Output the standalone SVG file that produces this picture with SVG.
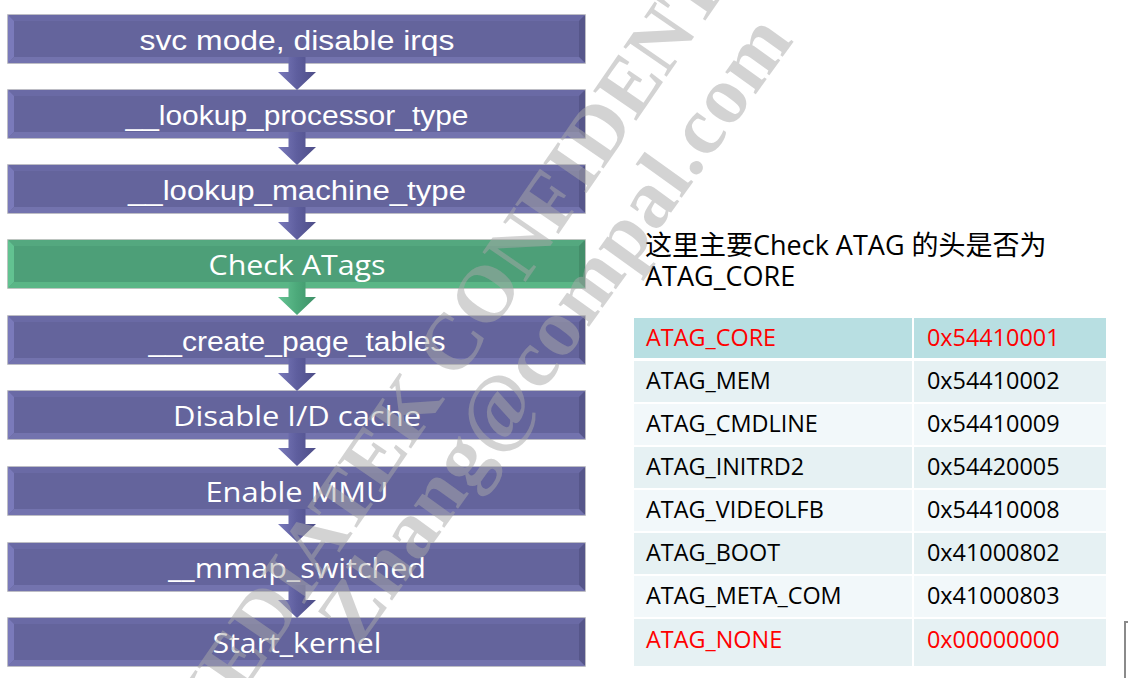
<svg xmlns="http://www.w3.org/2000/svg" xmlns:xlink="http://www.w3.org/1999/xlink" width="1128" height="678" viewBox="0 0 1128 678">
<style>
.lbl{fill:#ffffff;font-size:27px;text-anchor:middle}
.ar{font-family:"Liberation Sans",Arial,sans-serif}
.se{font-family:"Open Sans","Noto Sans",sans-serif}
.cell{font-family:"Open Sans","Noto Sans",sans-serif;font-size:23.4px;fill:#000}
.red{fill:#ff0000}
.wm{font-family:"Liberation Serif",serif;font-weight:bold;fill:#a8a8a8;fill-opacity:0.5}
</style>
<defs>
<linearGradient id="gp" x1="0" y1="0" x2="1" y2="0">
<stop offset="0" stop-color="#7a7abb"/><stop offset="0.5" stop-color="#5e5e9e"/><stop offset="1" stop-color="#4e4e88"/>
</linearGradient>
<linearGradient id="gg" x1="0" y1="0" x2="1" y2="0">
<stop offset="0" stop-color="#66c494"/><stop offset="0.5" stop-color="#4ca97a"/><stop offset="1" stop-color="#3e9068"/>
</linearGradient>
<g id="pbox">
<rect x="0" y="0" width="577" height="48" fill="#64649c" stroke="#a8a8b2" stroke-width="1.5"/>
<polygon points="0,0 577,0 571,6 6,6" fill="#6a6aa5"/>
<polygon points="0,0 6,6 6,42 0,48" fill="#7a7aba"/>
<polygon points="577,0 577,48 571,42 571,6" fill="#56568a"/>
<polygon points="0,48 6,42 571,42 577,48" fill="#7373ae"/>
</g>
<g id="gbox">
<rect x="0" y="0" width="577" height="48" fill="#4d9f78" stroke="#a8b2ac" stroke-width="1.5"/>
<polygon points="0,0 577,0 571,6 6,6" fill="#54a87f"/>
<polygon points="0,0 6,6 6,42 0,48" fill="#62c291"/>
<polygon points="577,0 577,48 571,42 571,6" fill="#448e6a"/>
<polygon points="0,48 6,42 571,42 577,48" fill="#5ab686"/>
</g>
<polygon id="arr" points="-8.5,-6 8.5,-6 8.5,9 19,9 0,27 -19,9 -8.5,9"/>
</defs>

<g id="node1"><use xlink:href="#pbox" x="8" y="15"/><text class="lbl ar" x="297" y="50" textLength="315" lengthAdjust="spacingAndGlyphs">svc mode, disable irqs</text></g>
<g id="node2"><use xlink:href="#pbox" x="8" y="90"/><text class="lbl ar" x="297" y="125" textLength="343" lengthAdjust="spacingAndGlyphs">__lookup_processor_type</text></g>
<g id="node3"><use xlink:href="#pbox" x="8" y="165"/><text class="lbl ar" x="297" y="200" textLength="338" lengthAdjust="spacingAndGlyphs">__lookup_machine_type</text></g>
<g id="node4"><use xlink:href="#gbox" x="8" y="240"/><text class="lbl se" x="297" y="275" textLength="177" lengthAdjust="spacingAndGlyphs">Check ATags</text></g>
<g id="node5"><use xlink:href="#pbox" x="8" y="316"/><text class="lbl ar" x="297" y="351" textLength="297" lengthAdjust="spacingAndGlyphs">__create_page_tables</text></g>
<g id="node6"><use xlink:href="#pbox" x="8" y="391"/><text class="lbl se" x="297" y="426" textLength="248" lengthAdjust="spacingAndGlyphs">Disable I/D cache</text></g>
<g id="node7"><use xlink:href="#pbox" x="8" y="467"/><text class="lbl se" x="297" y="502" textLength="183" lengthAdjust="spacingAndGlyphs">Enable MMU</text></g>
<g id="node8"><use xlink:href="#pbox" x="8" y="543"/><text class="lbl se" x="297" y="578" textLength="258" lengthAdjust="spacingAndGlyphs">__mmap_switched</text></g>
<g id="node9"><use xlink:href="#pbox" x="8" y="618"/><text class="lbl se" x="297" y="653" textLength="169" lengthAdjust="spacingAndGlyphs">Start_kernel</text></g>

<g id="connectors">
<use xlink:href="#arr" x="297" y="63" fill="url(#gp)"/>
<use xlink:href="#arr" x="297" y="138" fill="url(#gp)"/>
<use xlink:href="#arr" x="297" y="213" fill="url(#gp)"/>
<use xlink:href="#arr" x="297" y="288" fill="url(#gg)"/>
<use xlink:href="#arr" x="297" y="364" fill="url(#gp)"/>
<use xlink:href="#arr" x="297" y="439" fill="url(#gp)"/>
<use xlink:href="#arr" x="297" y="515" fill="url(#gp)"/>
<use xlink:href="#arr" x="297" y="591" fill="url(#gp)"/>
</g>

<g id="note">
<text x="645" y="255" font-family="'Open Sans','Noto Sans CJK SC',sans-serif" font-size="27" fill="#000">这里主要Check ATAG 的头是否为</text>
<text x="645" y="286" font-family="'Open Sans','Noto Sans CJK SC',sans-serif" font-size="27" fill="#000">ATAG_CORE</text>
</g>

<g id="table">
<rect x="634" y="318" width="472" height="40" fill="#b8dfe2"/>
<rect x="634" y="361" width="472" height="41" fill="#e6f1f3"/>
<rect x="634" y="404" width="472" height="41" fill="#f2f8fa"/>
<rect x="634" y="447" width="472" height="41" fill="#e6f1f3"/>
<rect x="634" y="490" width="472" height="41" fill="#f2f8fa"/>
<rect x="634" y="533" width="472" height="41" fill="#e6f1f3"/>
<rect x="634" y="576" width="472" height="41" fill="#f2f8fa"/>
<rect x="634" y="619" width="472" height="47" fill="#e6f1f3"/>
<rect x="912" y="318" width="2" height="348" fill="#ffffff"/>
<text class="cell red" x="646" y="346">ATAG_CORE</text><text class="cell red" x="927" y="346">0x54410001</text>
<text class="cell" x="646" y="389">ATAG_MEM</text><text class="cell" x="927" y="389">0x54410002</text>
<text class="cell" x="646" y="432">ATAG_CMDLINE</text><text class="cell" x="927" y="432">0x54410009</text>
<text class="cell" x="646" y="475">ATAG_INITRD2</text><text class="cell" x="927" y="475">0x54420005</text>
<text class="cell" x="646" y="518">ATAG_VIDEOLFB</text><text class="cell" x="927" y="518">0x54410008</text>
<text class="cell" x="646" y="561">ATAG_BOOT</text><text class="cell" x="927" y="561">0x41000802</text>
<text class="cell" x="646" y="604">ATAG_META_COM</text><text class="cell" x="927" y="604">0x41000803</text>
<text class="cell red" x="646" y="648">ATAG_NONE</text><text class="cell red" x="927" y="648">0x00000000</text>
</g>
<path d="M1125,678 V622 H1128" fill="none" stroke="#8a8a8a" stroke-width="2"/>

<g id="watermark">
<text class="wm" font-size="80" transform="translate(197,760) rotate(-55.5)">MEDIATEK CONFIDENTIAL</text>
<text class="wm" font-size="82" letter-spacing="1.5" transform="translate(358,648) rotate(-54.3)">Zhang@compal.com</text>
</g>
</svg>
